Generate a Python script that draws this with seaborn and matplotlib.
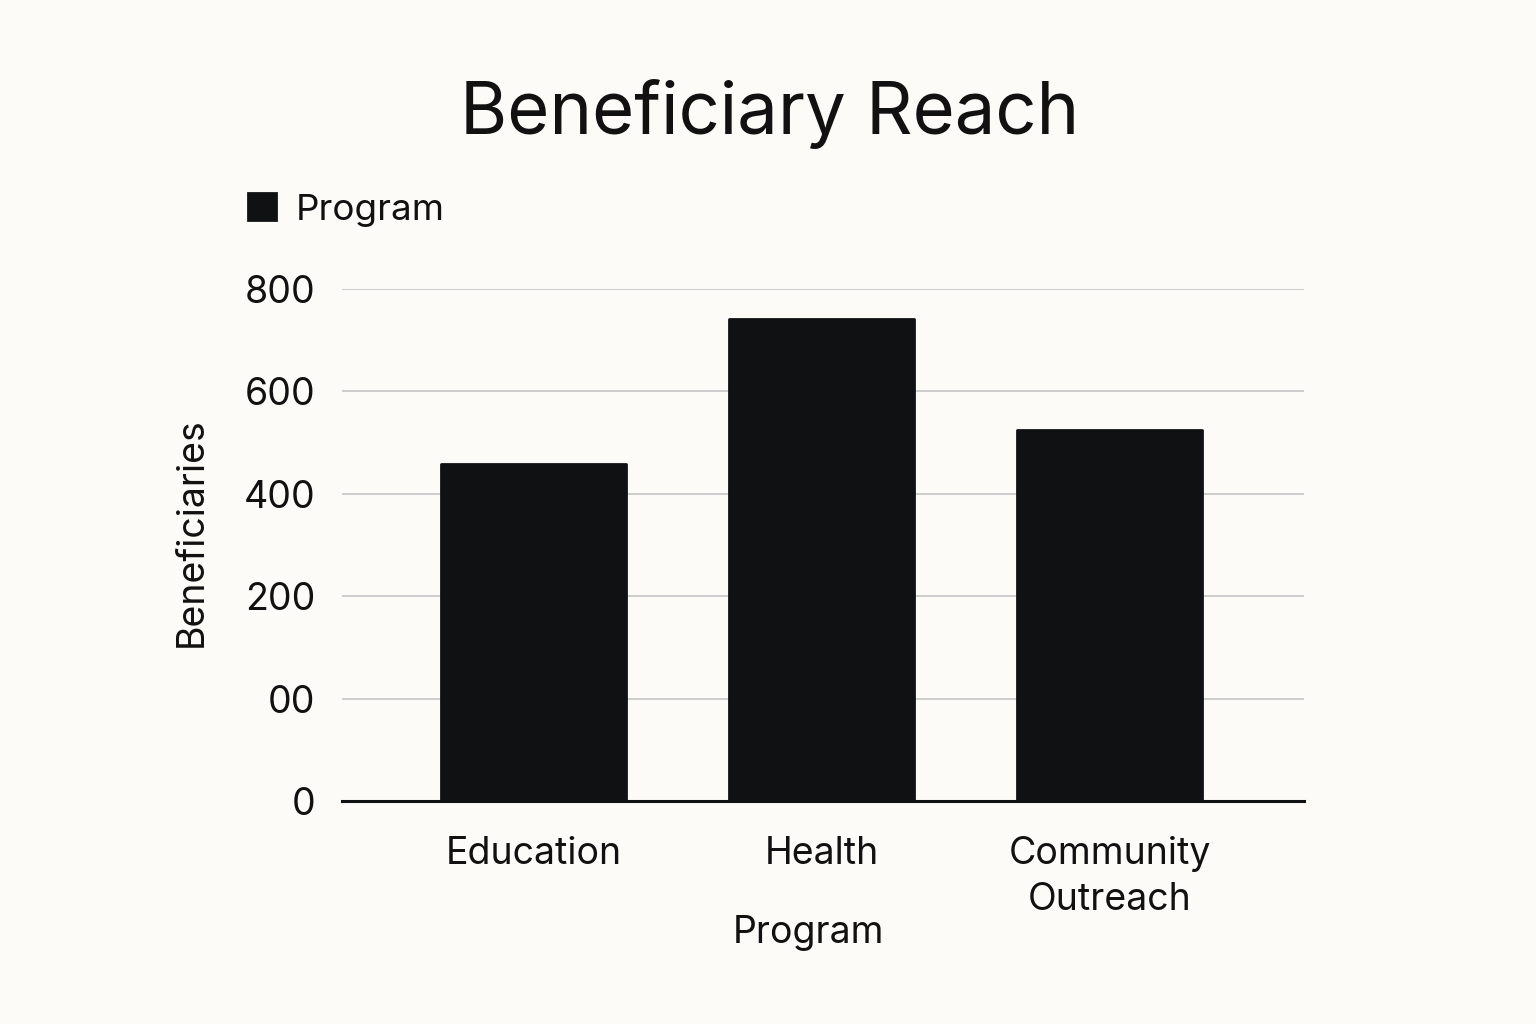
import numpy as np
import pandas as pd
import matplotlib.pyplot as plt
import seaborn as sns
from matplotlib.patches import Patch

programs = ["Education", "Health", "Community\nOutreach"]
beneficiaries = [527, 753, 580]
ytick_labels = ["0", "00", "200", "400", "600", "800"]

df = pd.DataFrame({"Program": programs, "Beneficiaries": beneficiaries})

sns.set_theme(style="white")
plt.rcParams["font.family"] = ["Inter", "DejaVu Sans"]

bg = "#fcfbf8"
ink = "#0f1113"

fig = plt.figure(figsize=(15.36, 10.24), dpi=100, facecolor=bg)
ax = fig.add_axes([342/1536, 1-801/1024, 962/1536, (801-289)/1024])
ax.set_facecolor(bg)

sns.barplot(data=df, x="Program", y="Beneficiaries", color=ink, saturation=1,
            width=0.64, ax=ax, edgecolor=ink, linewidth=2, zorder=3)
for p in ax.patches:
    p.set_joinstyle("round")

ax.set_xlim(-0.665, 2.675)
ax.set_ylim(0, 800)
ax.set_yticks(np.linspace(0, 800, len(ytick_labels)))
ax.set_yticklabels(ytick_labels)
ax.grid(axis="y", color="#c9c9c9", linewidth=1.3, zorder=0)
ax.set_axisbelow(True)

for s in ["top", "right", "left"]:
    ax.spines[s].set_visible(False)
ax.spines["bottom"].set_color(ink)
ax.spines["bottom"].set_linewidth(2.2)
ax.spines["bottom"].set_zorder(5)

ax.tick_params(axis="x", length=0, pad=25, labelsize=27, labelcolor="#111")
ax.tick_params(axis="y", length=0, pad=19, labelsize=27, labelcolor="#111")
for t in ax.get_xticklabels():
    t.set_linespacing(1.35)
ax.set_xlabel("")
ax.set_ylabel("")

fig.text(808/1536, 1-933/1024, "Program", ha="center", va="center", fontsize=27, color="#111")
fig.text(192/1536, 1-532/1024, "Beneficiaries", ha="center", va="center",
         rotation=90, fontsize=27, color="#111")
fig.text(770/1536, 1-114/1024, "Beneficiary Reach", ha="center", va="center",
         fontsize=52, color="#111")

leg = fig.legend(handles=[Patch(facecolor=ink, edgecolor=ink, joinstyle="round",
                                linewidth=2, label="Program")],
                 loc="center left", bbox_to_anchor=(248/1536, 1-210/1024), frameon=False,
                 fontsize=26.5, handlelength=0.75, handleheight=0.75, handletextpad=0.55,
                 borderaxespad=0, borderpad=0, labelcolor="#111")

fig.savefig("out.png", dpi=100, facecolor=bg)
